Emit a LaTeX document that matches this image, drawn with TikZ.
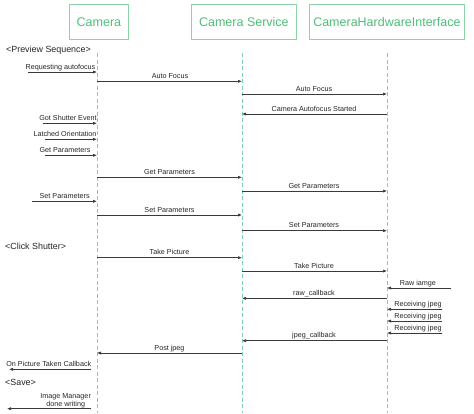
\documentclass[tikz,border=0pt]{standalone}
\usepackage{fontspec}
\setmainfont{Liberation Sans}
\usetikzlibrary{arrows.meta}
\definecolor{boxgreen}{HTML}{8FD4A8}
\definecolor{txtgreen}{HTML}{4EBF78}
\definecolor{lifegreen}{HTML}{7DCFB8}
\definecolor{msgcol}{HTML}{3A3A3A}
\tikzset{
  x=1pt, y=-1pt,
  actor/.style={draw=boxgreen, line width=0.8pt, text=txtgreen, inner sep=0pt,
    font=\fontsize{12.5}{14}\selectfont, anchor=north west},
  lifeline/.style={draw=lifegreen, line width=0.8pt, dash pattern=on 4pt off 2.5pt},
  msg/.style={draw=msgcol, line width=0.7pt, -{Latex[length=4pt,width=3.2pt]}},
  lbl/.style={font=\fontsize{7.2}{8.5}\selectfont, text=black!85, inner sep=0pt, anchor=base},
  sect/.style={font=\fontsize{8.9}{10}\selectfont, text=black!85, inner sep=0pt, anchor=base west},
}
\newcommand\seqmsg[6]{%
  \coordinate (#1s) at (#2,#4);
  \coordinate (#1e) at (#3,#4);
  \draw[msg] (#1s) -- (#1e);
  \node[lbl] (#1l) at (#5,#4-2.8) {#6};}
\begin{document}
\begin{tikzpicture}
\useasboundingbox (0,0) rectangle (474,413);
\fill[white] (0,0) rectangle (474,413);
% actors
\node[actor, minimum width=59pt, minimum height=35pt] (cam) at (69,4) {Camera};
\node[actor, minimum width=105pt, minimum height=35pt] (svc) at (191,4) {Camera Service};
\node[actor, minimum width=155pt, minimum height=35pt] (hal) at (309,4) {CameraHardwareInterface};
% lifelines
\coordinate (camtop) at (97,53); \coordinate (cambot) at (97,413);
\coordinate (svctop) at (242,53); \coordinate (svcbot) at (242,413);
\coordinate (haltop) at (387,53); \coordinate (halbot) at (387,413);
\draw[lifeline] (camtop) -- (cambot);
\draw[lifeline] (svctop) -- (svcbot);
\draw[lifeline] (haltop) -- (halbot);
% sections
\node[sect] (s1) at (6,52) {<Preview Sequence>};
\node[sect] (s2) at (5,249) {<Click Shutter>};
\node[sect] (s3) at (5,385.5) {<Save>};
% messages
\seqmsg{m1}{28}{97}{72}{60.5}{Requesting autofocus}
\seqmsg{m2}{97}{242}{81.3}{170}{Auto Focus}
\seqmsg{m3}{242}{387}{94}{314}{Auto Focus}
\seqmsg{m4}{387}{242}{114}{314}{Camera Autofocus Started}
\seqmsg{m5}{43}{97}{123.3}{68}{Got Shutter Event}
\seqmsg{m6}{45}{97}{139.3}{65}{Latched Orientation}
\seqmsg{m7}{45}{97}{155.3}{65}{Get Parameters}
\seqmsg{m8}{97}{242}{177.3}{169.5}{Get Parameters}
\seqmsg{m9}{242}{387}{191}{314}{Get Parameters}
\seqmsg{m10}{32}{97}{201.3}{64.7}{Set Parameters}
\seqmsg{m11}{97}{242}{215}{169.5}{Set Parameters}
\seqmsg{m12}{242}{387}{230.7}{314}{Set Parameters}
\seqmsg{m13}{97}{242}{257.7}{169.5}{Take Picture}
\seqmsg{m14}{242}{387}{271}{314}{Take Picture}
\seqmsg{m15}{450.7}{387}{288}{418}{Raw iamge}
\seqmsg{m16}{387}{242}{298.3}{314}{raw\_callback}
\seqmsg{m17}{441.7}{387}{309.3}{418}{Receiving jpeg}
\seqmsg{m18}{441.7}{387}{321}{418}{Receiving jpeg}
\seqmsg{m19}{441.7}{387}{333}{418}{Receiving jpeg}
\seqmsg{m20}{387}{242}{340.7}{314}{jpeg\_callback}
\seqmsg{m21}{242}{97}{353}{169.5}{Post jpeg}
\seqmsg{m22}{91}{9}{369.3}{48.8}{On Picture Taken Callback}
% last message with two-line label
\coordinate (m23s) at (90.7,408.7);
\coordinate (m23e) at (7,408.7);
\draw[msg] (m23s) -- (m23e);
\node[lbl] (m23a) at (65.7,398.2) {Image Manager};
\node[lbl] (m23b) at (65.7,406.2) {done writing};
\end{tikzpicture}
\end{document}
